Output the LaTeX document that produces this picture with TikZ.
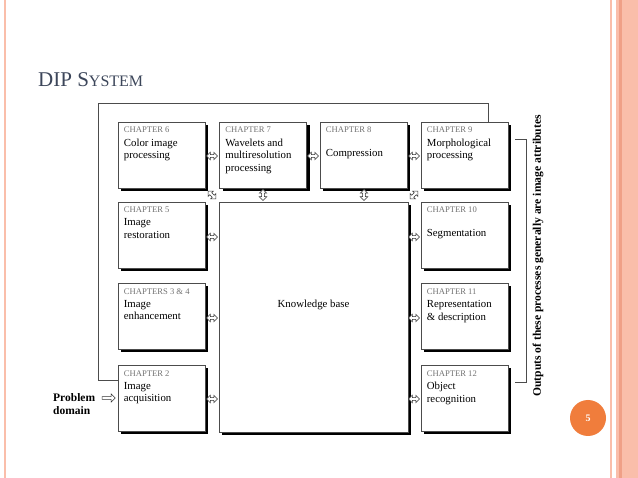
\documentclass[tikz,border=0pt]{standalone}
\usepackage{fontspec}
\setmainfont{Liberation Serif}
\usetikzlibrary{shapes.arrows,calc}
\definecolor{salmon}{RGB}{250,190,170}
\definecolor{salmond}{RGB}{240,160,135}
\definecolor{titleblue}{RGB}{60,70,90}
\definecolor{orng}{RGB}{240,125,60}
\tikzset{
  box/.style={draw=black!70, fill=white, line width=0.6, minimum width=87, minimum height=66, inner sep=0,
    preaction={fill=black, transform canvas={shift={(3pt,-3pt)}}}},
  chap/.style={anchor=west, inner sep=0, font=\fontsize{8.6}{9}\selectfont, text=black!55},
  ttl/.style={anchor=north west, inner sep=0, align=left, font=\fontsize{10.8}{12.5}\selectfont},
  darr/.style={draw=black!80, fill=white, double arrow, line width=0.5, minimum height=11, minimum width=7.5,
    double arrow head extend=1.5, inner sep=0.6},
  sarr/.style={draw=black!80, fill=white, single arrow, line width=0.5, minimum height=13, minimum width=8,
    single arrow head extend=1.5, inner sep=0.6},
  fb/.style={draw=black!70, line width=0.6}
}
\begin{document}
\begin{tikzpicture}[x=1pt,y=-1pt]
\useasboundingbox (0,0) rectangle (638,478);
\fill[white] (0,0) rectangle (638,478);
% slide decoration
\fill[salmon] (4,0) rectangle (6,478);
\fill[salmon] (610,0) rectangle (612,478);
\fill[salmon] (616,0) rectangle (619,478);
\fill[salmond] (619,0) rectangle (622,478);
\fill[salmon] (622,0) rectangle (638,478);
\node[anchor=west, text=titleblue, font=\fontsize{21}{24}\selectfont, inner sep=0] (title) at (38,80) {DIP S\fontsize{16}{20}\selectfont YSTEM};
% feedback line
\coordinate (fbA) at (118,380);
\coordinate (fbB) at (98,380);
\coordinate (fbC) at (98,103);
\coordinate (fbD) at (488,103);
\coordinate (fbE) at (488,122);
\draw[fb] (fbA) -- (fbB) -- (fbC) -- (fbD) -- (fbE);
% boxes
\node[box] (c6) at (161.5,155) {};
\node[box] (c7) at (263,155) {};
\node[box] (c8) at (363.5,155) {};
\node[box] (c9) at (464.5,155) {};
\node[box] (c5) at (161.5,235) {};
\node[box] (c34) at (161.5,316.5) {};
\node[box] (c2) at (161.5,398.5) {};
\node[box] (c10) at (464.5,235) {};
\node[box] (c11) at (464.5,316.5) {};
\node[box] (c12) at (464.5,398.5) {};
\node[box, minimum width=189, minimum height=230] (kb) at (313.5,317) {};
% texts
\foreach \b/\c/\t in {c6/CHAPTER 6/{Color image\\processing},
  c7/CHAPTER 7/{Wavelets and\\multiresolution\\processing},
  c8/CHAPTER 8/{},
  c9/CHAPTER 9/{Morphological\\processing},
  c5/CHAPTER 5/{Image\\restoration},
  c34/CHAPTERS 3 \& 4/{Image\\enhancement},
  c2/CHAPTER 2/{Image\\acquisition},
  c10/CHAPTER 10/{},
  c11/CHAPTER 11/{Representation\\\& description},
  c12/CHAPTER 12/{Object\\recognition}}{
  \node[chap] (\b l) at ($(\b.north west)+(6,8)$) {\c};
  \node[ttl] (\b t) at ($(\b.north west)+(6,17)$) {\t};
}
\node[ttl] (c8t2) at ($(c8.north west)+(6,27)$) {Compression};
\node[ttl] (c10t2) at ($(c10.north west)+(6,27)$) {Segmentation};
\node[font=\fontsize{10.8}{12}\selectfont, inner sep=0] (kbt) at (313.5,305) {Knowledge base};
% arrows
\node[darr] (a1) at (212,156) {};
\node[darr] (a2) at (313,156) {};
\node[darr] (a3) at (414,156) {};
\node[darr] (a4) at (212,237) {};
\node[darr] (a5) at (212,318) {};
\node[darr] (a6) at (212,399) {};
\node[darr] (a7) at (414,237) {};
\node[darr] (a8) at (414,318) {};
\node[darr] (a9) at (414,399) {};
\node[darr, rotate=90] (a10) at (263,195) {};
\node[darr, rotate=90] (a11) at (364,195) {};
\node[darr, rotate=-45] (a12) at (212,195) {};
\node[darr, rotate=45] (a13) at (414,195) {};
\node[sarr] (pa) at (108,398) {};
\node[anchor=west, align=left, inner sep=0, font=\bfseries\fontsize{11.5}{13.5}\selectfont] (pd) at (53,404) {Problem\\domain};
% bracket
\coordinate (br1) at (515,139);
\coordinate (br2) at (526,139);
\coordinate (br3) at (526,382);
\coordinate (br4) at (515,382);
\draw[fb] (br1) -- (br2) -- (br3) -- (br4);
\node[rotate=90, font=\bfseries\fontsize{11.6}{13}\selectfont, inner sep=0] (out) at (538,256) {Outputs of these processes generally are image attributes};
% page number
\node[circle, fill=orng, minimum size=36, inner sep=0, text=white, font=\bfseries\fontsize{10}{12}\selectfont] (pg) at (588,418) {5};
\end{tikzpicture}
\end{document}
